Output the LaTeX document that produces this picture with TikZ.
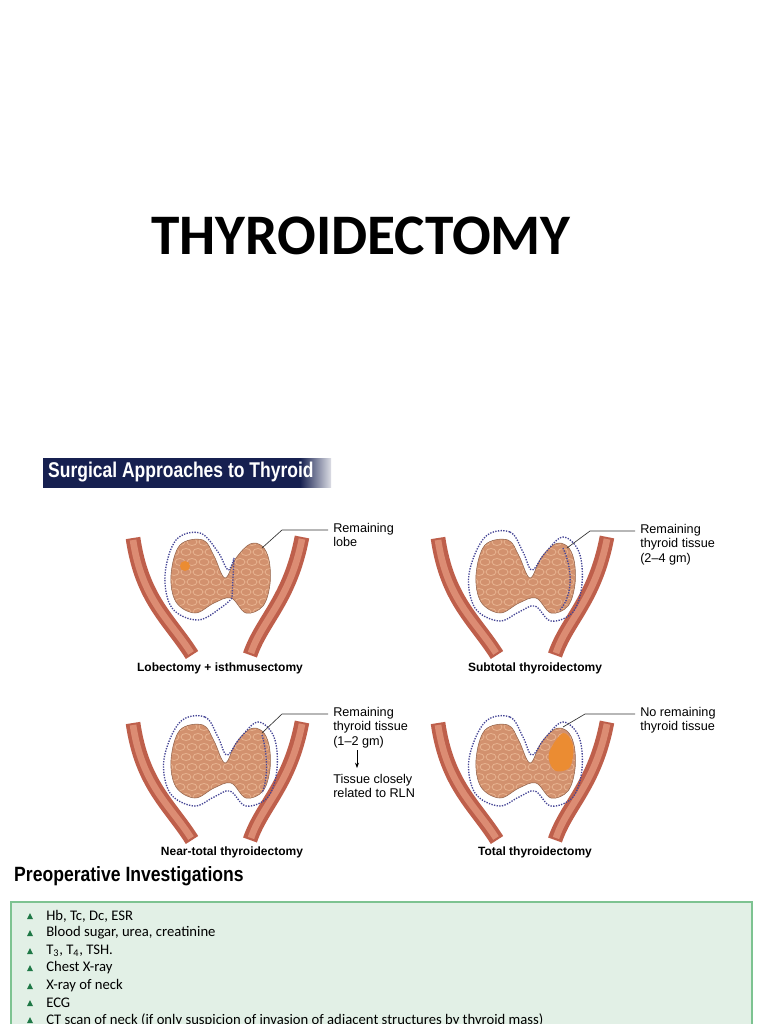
\documentclass[tikz,border=0pt]{standalone}
\usepackage{fontspec}
\setmainfont{Carlito}
\newfontfamily\lsans{Liberation Sans}
\usetikzlibrary{arrows.meta}
\definecolor{navy}{RGB}{22,32,80}
\definecolor{vess}{RGB}{190,95,75}
\definecolor{vessl}{RGB}{220,140,115}
\definecolor{thy}{RGB}{210,145,110}
\definecolor{thyl}{RGB}{232,180,145}
\definecolor{nod}{RGB}{235,140,50}
\definecolor{dotb}{RGB}{70,70,150}
\definecolor{gborder}{RGB}{125,195,145}
\definecolor{gfill}{RGB}{226,240,230}
\definecolor{gtri}{RGB}{30,120,70}
\tikzset{
 lbl/.style={font=\lsans\fontsize{9.5}{10.8}\selectfont, align=left, anchor=north west, inner sep=0pt},
 capt/.style={font=\lsans\bfseries\fontsize{9}{10}\selectfont, inner sep=0pt},
 item/.style={font=\fontsize{11}{12}\selectfont, anchor=west, inner sep=0pt},
 dotl/.style={dotb, densely dotted, line width=1pt},
 leader/.style={black!80, line width=0.5pt}
}
\newcommand{\thyshape}{plot[smooth cycle, tension=0.6] coordinates {(180,545) (203,540) (214,556) (225,578) (236,558) (250,544) (262,546) (269,560) (270,584) (263,606) (246,613) (231,598) (214,603) (195,613) (176,602) (171,575)}}
\newcommand{\panelbase}{%
 \draw[vess, line width=11pt] (133,538) .. controls (142,600) and (170,620) .. (192,655);
 \draw[vessl, line width=5pt] (133,540) .. controls (142,600) and (170,620) .. (191,653);
 \draw[vess, line width=11pt] (302,537) .. controls (290,600) and (262,620) .. (250,655);
 \draw[vessl, line width=5pt] (302,539) .. controls (290,600) and (262,620) .. (251,653);
 \fill[thy] \thyshape;
 \begin{scope}
  \clip \thyshape;
  \foreach \i in {0,...,8}{\foreach \j in {0,...,7}{
   \draw[thyl, line width=0.6pt] ({168+\i*12+mod(\j,2)*6},{542+\j*10}) ellipse (5 and 3.5);}}
 \end{scope}
 \draw[thy!70!black, line width=0.4pt] \thyshape;
}
\begin{document}
\begin{tikzpicture}[x=0.75pt,y=-0.75pt]
\useasboundingbox (0,0) rectangle (768,1024);
\fill[white] (0,0) rectangle (768,1024);
\node[font=\bfseries\fontsize{43}{48}\selectfont] (title) at (361,236) {THYROIDECTOMY};
% header
\shade[left color=navy, right color=navy] (43,458) rectangle (300,487);
\shade[left color=navy, right color=navy!15] (300,458) rectangle (331,487);
\node[anchor=west, text=white, font=\lsans\bfseries\fontsize{16}{17}\selectfont, xscale=0.82, inner sep=0pt] (hdr) at (48,472) {Surgical Approaches to Thyroid};
% panels
\begin{scope}[shift={(0,0)}]
 \panelbase
 \fill[nod] (185,566) circle (5);
 \draw[dotl] plot[smooth, tension=0.6] coordinates {(232,598) (222,607) (198,620) (172,608) (165,575) (176,540) (200,533) (218,552) (228,570) (234,558)};
 \draw[dotl] (234,558) -- (232,598);
 \draw[leader] (262,548) -- (282,530) -- (328,530);
 \node[lbl] (l1) at (333,523) {Remaining\\lobe};
 \node[capt] (c1) at (220,668) {Lobectomy + isthmusectomy};
\end{scope}
\begin{scope}[shift={(305,0)}]
 \panelbase
 \draw[dotl] plot[smooth cycle, tension=0.6] coordinates {(180,537) (205,532) (218,552) (227,570) (240,553) (258,537) (274,552) (277,584) (268,612) (246,621) (230,606) (214,612) (194,621) (170,608) (164,574)};
 \draw[dotl] (258,548) .. controls (268,570) and (268,595) .. (255,610);
 \draw[leader] (262,548) -- (285,531) -- (330,531);
 \node[lbl] (l2) at (335,524) {Remaining\\thyroid tissue\\(2–4 gm)};
 \node[capt] (c2) at (230,668) {Subtotal thyroidectomy};
\end{scope}
\begin{scope}[shift={(0,185)}]
 \panelbase
 \draw[dotl] plot[smooth cycle, tension=0.6] coordinates {(180,537) (205,532) (218,552) (227,570) (240,553) (258,537) (274,552) (277,584) (268,612) (246,621) (230,606) (214,612) (194,621) (170,608) (164,574)};
 \draw[dotl] (262,550) .. controls (268,570) and (268,595) .. (262,608);
 \draw[leader] (262,548) -- (282,529) -- (328,529);
 \node[lbl] (l3) at (333,522) {Remaining\\thyroid tissue\\(1–2 gm)};
 \node[lbl] (l3b) at (333,589) {Tissue closely\\related to RLN};
 \draw[-{Stealth[length=4pt]}, line width=0.5pt] (357,565) -- (357,583);
 \node[capt] (c3) at (232,667) {Near-total thyroidectomy};
\end{scope}
\begin{scope}[shift={(305,185)}]
 \panelbase
 \fill[nod] plot[smooth cycle, tension=0.6] coordinates {(258,548) (268,560) (266,580) (258,586) (248,584) (244,568)};
 \draw[dotl] plot[smooth cycle, tension=0.6] coordinates {(180,537) (205,532) (218,552) (227,570) (240,553) (258,537) (274,552) (277,584) (268,612) (246,621) (230,606) (214,612) (194,621) (170,608) (164,574)};
 \draw[leader] (258,542) -- (280,529) -- (330,529);
 \node[lbl] (l4) at (335,522) {No remaining\\thyroid tissue};
 \node[capt] (c4) at (230,667) {Total thyroidectomy};
\end{scope}
% preop
\node[anchor=west, font=\lsans\bfseries\fontsize{15.5}{17}\selectfont, xscale=0.85, inner sep=0pt] (pre) at (14,876) {Preoperative Investigations};
\draw[gborder, fill=gfill, line width=2.2pt] (11,902) rectangle (752,1030);
\foreach \y/\t in {916/{Hb, Tc, Dc, ESR},933/{Blood sugar, urea, creatinine},951/{T\textsubscript{3}, T\textsubscript{4}, TSH.},968/{Chest X-ray},986/{X-ray of neck},1003/{ECG},1020/{CT scan of neck (if only suspicion of invasion of adjacent structures by thyroid mass)}}{
 \fill[gtri] (27,{\y+3}) -- (33,{\y+3}) -- (30,{\y-3}) -- cycle;
 \node[item] at (46,\y) {\t};
}
\end{tikzpicture}
\end{document}
